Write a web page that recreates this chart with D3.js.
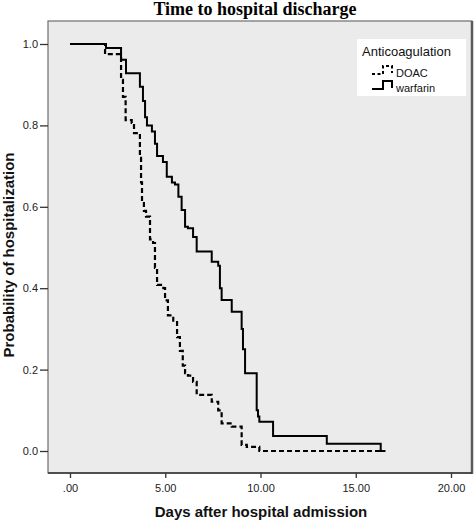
<!DOCTYPE html>
<html>
<head>
<meta charset="utf-8">
<script src="https://cdn.jsdelivr.net/npm/d3@7"></script>
<style>
  body { margin: 0; background: #fff; }
  svg { display: block; font-family: "Liberation Sans", Arial, sans-serif; }
</style>
</head>
<body>
<div id="chart"></div>
<script>
// Kaplan-Meier: time to hospital discharge

var svgWidth = 474;
var svgHeight = 523;

// frame of the plot area
var frame = { left: 48, top: 21, right: 472, bottom: 473 };

// step data (day of event, probability after the step)
var doacDays = [0, 1.84, 2.68, 2.78, 2.92, 3.24, 3.36, 3.67, 3.73, 3.78, 3.88, 3.99, 4.20, 4.36,
  4.46, 4.57, 4.90, 4.99, 5.14, 5.42, 5.62, 5.77, 5.92, 6.04, 6.19, 6.46, 6.65, 7.44, 7.78, 7.96,
  8.49, 9.01, 9.28, 9.94];
var doacSurv = [1.0, 0.975, 0.912, 0.87, 0.813, 0.806, 0.781, 0.72, 0.66, 0.617, 0.59, 0.576, 0.52, 0.511,
  0.45, 0.408, 0.40, 0.37, 0.333, 0.32, 0.28, 0.246, 0.21, 0.191, 0.185, 0.17, 0.138, 0.121, 0.10, 0.068,
  0.06, 0.015, 0.010, 0.0];

var warfarinDays = [0, 1.89, 2.68, 2.94, 3.67, 3.83, 3.94, 4.04, 4.30, 4.46, 4.57, 4.88, 5.08, 5.35,
  5.51, 5.69, 5.86, 6.04, 6.19, 6.46, 6.65, 7.44, 7.78, 7.87, 7.96, 8.49, 9.01, 9.08, 9.19, 9.80,
  9.87, 9.94, 10.66, 13.48, 16.31];
var warfarinSurv = [1.0, 0.990, 0.961, 0.928, 0.895, 0.86, 0.82, 0.80, 0.785, 0.755, 0.725, 0.71, 0.674, 0.66,
  0.655, 0.625, 0.592, 0.551, 0.547, 0.526, 0.49, 0.465, 0.455, 0.40, 0.371, 0.342, 0.30, 0.25, 0.191, 0.10,
  0.085, 0.072, 0.037, 0.018, 0.0];

var lastDay = 16.55;

var xTicks = [0, 5, 10, 15, 20];
var xTickLabels = [".00", "5.00", "10.00", "15.00", "20.00"];
var yTicks = [0, 0.2, 0.4, 0.6, 0.8, 1.0];
var yTickLabels = ["0.0", "0.2", "0.4", "0.6", "0.8", "1.0"];

var groups = ["DOAC", "warfarin"];

var svg = d3.select("#chart")
  .append("svg")
  .attr("width", svgWidth)
  .attr("height", svgHeight);

var xScale = d3.scaleLinear().domain([0, 20]).range([70, 451]);
var yScale = d3.scaleLinear().domain([0, 1]).range([451, 44]);

// title
svg.append("text")
  .attr("x", 255)
  .attr("y", 15)
  .attr("text-anchor", "middle")
  .style("font-family", "'Liberation Serif', 'Times New Roman', serif")
  .style("font-weight", "bold")
  .style("font-size", "18px")
  .text("Time to hospital discharge");

// plot background + frame
svg.append("rect")
  .attr("x", frame.left)
  .attr("y", frame.top)
  .attr("width", frame.right - frame.left)
  .attr("height", frame.bottom - frame.top)
  .attr("fill", "#ebebeb")
  .attr("stroke", "#6e6e6e")
  .attr("stroke-width", 1.2);

svg.append("line")
  .attr("x1", frame.right).attr("x2", frame.right)
  .attr("y1", frame.top).attr("y2", frame.bottom + 1)
  .attr("stroke", "#5a5a5a")
  .attr("stroke-width", 2.5);

svg.append("line")
  .attr("x1", frame.left).attr("x2", frame.right)
  .attr("y1", frame.bottom).attr("y2", frame.bottom)
  .attr("stroke", "#333")
  .attr("stroke-width", 1.5);

// axes
var bottomAxis = d3.axisBottom(xScale)
  .tickValues(xTicks)
  .tickFormat(function(d, i) { return xTickLabels[i]; })
  .tickSize(5)
  .tickPadding(6);

var leftAxis = d3.axisLeft(yScale)
  .tickValues(yTicks)
  .tickFormat(function(d, i) { return yTickLabels[i]; })
  .tickSize(8)
  .tickPadding(2);

var gx = svg.append("g")
  .attr("transform", `translate(0, ${frame.bottom})`)
  .call(bottomAxis);

var gy = svg.append("g")
  .attr("transform", `translate(${frame.left}, 0)`)
  .call(leftAxis);

[gx, gy].forEach(function(g) {
  g.select(".domain").remove();
  g.selectAll("line").attr("stroke", "#333").attr("stroke-width", 1.3);
  g.selectAll("text")
    .attr("fill", "#222")
    .style("font-family", "'Liberation Sans', Arial, sans-serif")
    .style("font-size", "11px");
});

// axis titles
svg.append("text")
  .attr("x", 261)
  .attr("y", 517)
  .attr("text-anchor", "middle")
  .style("font-weight", "bold")
  .style("font-size", "15px")
  .attr("fill", "#111")
  .text("Days after hospital admission");

svg.append("text")
  .attr("transform", "translate(14, 255) rotate(-90)")
  .attr("text-anchor", "middle")
  .style("font-weight", "bold")
  .style("font-size", "15px")
  .attr("fill", "#111")
  .text("Probability of hospitalization");

// curves
function toPoints(days, surv) {
  var pts = days.map(function(d, i) { return [d, surv[i]]; });
  pts.push([lastDay, surv[surv.length - 1]]);
  return pts;
}

var line = d3.line()
  .x(function(d) { return xScale(d[0]); })
  .y(function(d) { return yScale(d[1]); })
  .curve(d3.curveStepAfter);

svg.append("path")
  .datum(toPoints(warfarinDays, warfarinSurv))
  .attr("d", line)
  .attr("fill", "none")
  .attr("stroke", "#000")
  .attr("stroke-width", 2);

svg.append("path")
  .datum(toPoints(doacDays, doacSurv))
  .attr("d", line)
  .attr("fill", "none")
  .attr("stroke", "#000")
  .attr("stroke-width", 2.2)
  .attr("stroke-dasharray", "5,3");

// legend
var legend = svg.append("g");

legend.append("rect")
  .attr("x", 357).attr("y", 39)
  .attr("width", 109).attr("height", 57)
  .attr("fill", "#fff");

legend.append("text")
  .attr("x", 362).attr("y", 56)
  .style("font-size", "13px")
  .attr("fill", "#111")
  .text("Anticoagulation");

var legendSymbols = [
  { y: 74, dash: "3,2.5" },
  { y: 89, dash: null }
];

groups.forEach(function(name, i) {
  var s = legendSymbols[i];
  legend.append("path")
    .attr("d", `M372,${s.y} H383 V${s.y - 8} H392 V${s.y - 1}`)
    .attr("fill", "none")
    .attr("stroke", "#000")
    .attr("stroke-width", 2)
    .attr("stroke-dasharray", s.dash);
  legend.append("text")
    .attr("x", 396).attr("y", s.y + 3)
    .style("font-size", "11px")
    .attr("fill", "#111")
    .text(name);
});
</script>
</body>
</html>
